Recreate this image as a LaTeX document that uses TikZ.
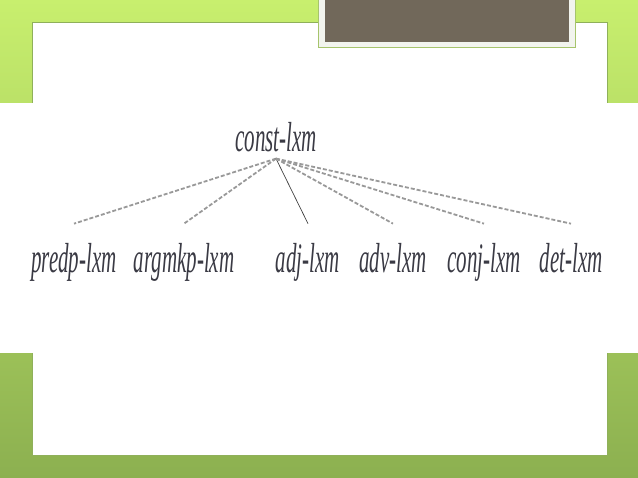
\documentclass[tikz,border=0pt]{standalone}
\usepackage{fontspec}
\setmainfont{Liberation Serif}
\usepackage{graphicx}
\definecolor{slidetop}{HTML}{C8EF6E}
\definecolor{slidebot}{HTML}{8CB050}
\definecolor{slideedge}{HTML}{8FB05A}
\definecolor{titlebrown}{HTML}{71685A}
\definecolor{titlerim}{HTML}{F2F4EE}
\definecolor{titleedge}{HTML}{A6C46C}
\definecolor{lxmink}{HTML}{3A3A44}
\newcommand{\lxmtext}[1]{\scalebox{0.5}[1]{#1}}
\tikzset{lxm/.style={font=\fontsize{42}{42}\selectfont\itshape,text=lxmink,anchor=base,inner xsep=0pt},
  daughter/.style={lxm,inner ysep=20pt},
  dashedge/.style={draw=black!40,line width=1.8pt,dash pattern=on 4pt off 2pt},
  solidedge/.style={draw=black!75,line width=0.7pt}}
\begin{document}
\begin{tikzpicture}[x=1pt,y=-1pt]
\useasboundingbox (0,0) rectangle (638,478);
% slide background
\shade[top color=slidetop,bottom color=slidebot] (0,0) rectangle (638,478);
\draw[slideedge,fill=white] (32,22) rectangle (607,455);
\fill[white] (0,103) rectangle (638,353);
% title box
\draw[titleedge,fill=titlerim] (318,-2) rectangle (575,47);
\fill[titlebrown] (325,-2) rectangle (569,42);
% the hierarchy
\node[lxm,inner ysep=6pt] (const) at (276,152) {\lxmtext{const-lxm}};
\node[daughter] (predp) at (74,273) {\lxmtext{predp-lxm}};
\node[daughter] (argmkp) at (184,273) {\lxmtext{argmkp-lxm}};
\node[daughter] (adj) at (308,273) {\lxmtext{adj-lxm}};
\node[daughter] (adv) at (393,273) {\lxmtext{adv-lxm}};
\node[daughter] (conj) at (484,273) {\lxmtext{conj-lxm}};
\node[daughter] (det) at (571,273) {\lxmtext{det-lxm}};
\path (const.south) edge[dashedge] (predp.north);
\path (const.south) edge[dashedge] (argmkp.north);
\path (const.south) edge[solidedge] (adj.north);
\path (const.south) edge[dashedge] (adv.north);
\path (const.south) edge[dashedge] (conj.north);
\path (const.south) edge[dashedge] (det.north);
\end{tikzpicture}
\end{document}
